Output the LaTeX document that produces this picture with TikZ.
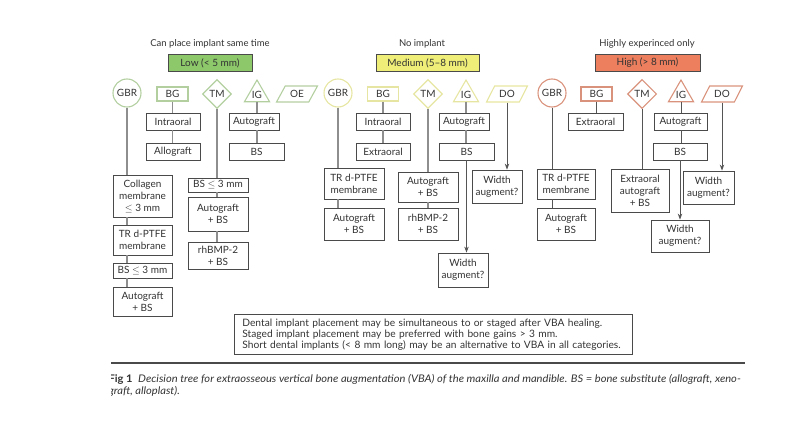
\documentclass[tikz,border=0pt]{standalone}
\usepackage{fontspec}
\setmainfont{Lato}
\usetikzlibrary{shapes.geometric,arrows.meta}
\definecolor{lowfill}{HTML}{8DC96B}
\definecolor{medfill}{HTML}{EEEE78}
\definecolor{highfill}{HTML}{EE7F5E}
\definecolor{lowline}{HTML}{B3CFA0}
\definecolor{medline}{HTML}{E6E6A2}
\definecolor{highline}{HTML}{D9937C}
\definecolor{boxc}{HTML}{4A4A4A}
\definecolor{txt}{HTML}{333333}
\definecolor{connc}{HTML}{8E8E8E}
\definecolor{hconnc}{HTML}{555555}
\begin{document}
\begin{tikzpicture}[x=1pt,y=-1pt,
  every node/.style={text=txt},
  hdr/.style={font=\fontsize{9.5}{11}\selectfont},
  lvl/.style={draw=boxc, line width=0.8pt, inner sep=0pt, minimum height=17pt, font=\fontsize{10}{12}\selectfont},
  bx/.style 2 args={draw=boxc, line width=0.8pt, fill=white, inner sep=1pt, align=center,
    minimum width=#1, minimum height=#2, font=\fontsize{10}{12}\selectfont},
  shp/.style={line width=1.1pt, inner sep=0pt, font=\fontsize{10}{12}\selectfont},
  circ/.style={shp, circle, minimum size=28pt},
  sq/.style={shp, rectangle, minimum width=31pt, minimum height=14pt},
  dia/.style={shp, diamond, aspect=1, minimum size=29pt},
  tri/.style={shp, regular polygon, regular polygon sides=3, minimum size=29pt},
  para/.style={shp, trapezium, trapezium left angle=55, trapezium right angle=125,
    trapezium stretches=true, minimum width=41pt, minimum height=16pt},
  conn/.style={draw=connc, line width=1.3pt},
  hconn/.style={draw=hconnc, line width=1pt},
  arr/.style={draw=hconnc, line width=0.9pt, -{Stealth[length=6pt,width=4.5pt]}},
  captxt/.style={anchor=base west, inner sep=0pt, font=\fontsize{10.5}{12}\selectfont},
]
\useasboundingbox (0,0) rectangle (809,444);

% ---------------- LOW ----------------
\node[hdr] (lcap) at (210,44) {Can place implant same time};
\node[lvl, fill=lowfill, minimum width=84pt] (low) at (210,63) {Low (< 5 mm)};
\node[circ, draw=lowline] (lGBR) at (127,93) {GBR};
\node[sq, draw=lowline] (lBG) at (172.5,94) {BG};
\node[dia, draw=lowline] (lTM) at (217,94) {TM};
\node[tri, draw=lowline] (lIG) at (257,94.5) {IG};
\node[para, draw=lowline] (lOE) at (297,94) {OE};

\node[bx={54pt}{17pt}] (lIntra) at (173,121.5) {Intraoral};
\node[bx={54pt}{17pt}] (lAllo) at (173,151.5) {Allograft};
\node[bx={50pt}{17pt}] (lAuto) at (254,121.5) {Autograft};
\node[bx={55pt}{17pt}] (lBS) at (256.5,151.5) {BS};

\node[bx={59pt}{42pt}] (lColl) at (142.5,196) {Collagen\\membrane\\$\leq$ 3 mm};
\node[bx={59pt}{30pt}] (lTR) at (142.5,240) {TR d-PTFE\\membrane};
\node[bx={59pt}{15pt}] (lBS3) at (142.5,270.5) {BS $\leq$ 3 mm};
\node[bx={59pt}{29pt}] (lAG) at (142.5,301.5) {Autograft\\+ BS};

\node[bx={60pt}{14pt}] (lTBS) at (218,185) {BS $\leq$ 3 mm};
\node[bx={60pt}{34pt}] (lTAG) at (218,214) {Autograft\\+ BS};
\node[bx={60pt}{27pt}] (lTRh) at (218,255.5) {rhBMP-2\\+ BS};

\draw[conn] (lGBR.south) -- (lGBR.south |- lColl.north);
\draw[conn] (lGBR.south |- lColl.south) -- (lGBR.south |- lTR.north);
\draw[conn] (lGBR.south |- lTR.south) -- (lGBR.south |- lBS3.north);
\draw[conn] (lGBR.south |- lBS3.south) -- (lGBR.south |- lAG.north);
\draw[conn] (lBG.south) -- (lBG.south |- lIntra.north);
\draw[conn] (lBG.south |- lIntra.south) -- (lBG.south |- lAllo.north);
\draw[conn] (lTM.south) -- (lTM.south |- lTBS.north);
\draw[conn] (lTM.south |- lTBS.south) -- (lTM.south |- lTAG.north);
\draw[conn] (lTM.south |- lTAG.south) -- (lTM.south |- lTRh.north);
\draw[conn] (lIG.south) -- (lIG.south |- lAuto.north);
\draw[conn] (lIG.south |- lAuto.south) -- (lIG.south |- lBS.north);

% ---------------- MEDIUM ----------------
\node[hdr] (mcap) at (422,44) {No implant};
\node[lvl, fill=medfill, minimum width=103pt] (med) at (427.5,63) {Medium (5–8 mm)};
\node[circ, draw=medline] (mGBR) at (338,93) {GBR};
\node[sq, draw=medline] (mBG) at (383,94) {BG};
\node[dia, draw=medline] (mTM) at (428,94) {TM};
\node[tri, draw=medline] (mIG) at (466,94.5) {IG};
\node[para, draw=medline] (mDO) at (507,94) {DO};

\node[bx={54pt}{17pt}] (mIntra) at (383,121.5) {Intraoral};
\node[bx={54pt}{17pt}] (mExtra) at (383,151.5) {Extraoral};
\node[bx={50pt}{17pt}] (mAuto) at (464,121.5) {Autograft};
\node[bx={55pt}{17pt}] (mBS) at (466.5,151.5) {BS};

\node[bx={60pt}{31pt}] (mTR) at (354,183.5) {TR d-PTFE\\membrane};
\node[bx={60pt}{32pt}] (mAG) at (354,224) {Autograft\\+ BS};
\node[bx={60pt}{30pt}] (mTAG) at (428,187) {Autograft\\+ BS};
\node[bx={60pt}{32pt}] (mTRh) at (428,224) {rhBMP-2\\+ BS};
\node[bx={50pt}{34pt}] (mW1) at (463,270) {Width\\augment?};
\node[bx={50pt}{33pt}] (mW2) at (497,186.5) {Width\\augment?};

\draw[conn] (mGBR.south) -- (mGBR.south |- mTR.north);
\draw[conn] (mGBR.south |- mTR.south) -- (mGBR.south |- mAG.north);
\draw[conn] (mBG.south) -- (mBG.south |- mIntra.north);
\draw[conn] (mBG.south |- mIntra.south) -- (mBG.south |- mExtra.north);
\draw[conn] (mTM.south) -- (mTM.south |- mTAG.north);
\draw[conn] (mTM.south |- mTAG.south) -- (mTM.south |- mTRh.north);
\draw[conn] (mIG.south) -- (mIG.south |- mAuto.north);
\draw[conn] (mIG.south |- mAuto.south) -- (mIG.south |- mBS.north);
\draw[arr] (mBS.south) -- (mBS.south |- mW1.north);
\draw[arr] (mDO.south) -- (mDO.south |- mW2.north);

% ---------------- HIGH ----------------
\node[hdr] (hcap) at (647,44) {Highly experinced only};
\node[lvl, fill=highfill, minimum width=105pt] (high) at (647.5,63) {High (> 8 mm)};
\node[circ, draw=highline] (hGBR) at (552,93) {GBR};
\node[sq, draw=highline] (hBG) at (596.5,94) {BG};
\node[dia, draw=highline] (hTM) at (642,94) {TM};
\node[tri, draw=highline] (hIG) at (681,94.5) {IG};
\node[para, draw=highline] (hDO) at (722,94) {DO};

\node[bx={55pt}{17pt}] (hExtra) at (595.5,121.5) {Extraoral};
\node[bx={53pt}{17pt}] (hAuto) at (680.5,121.5) {Autograft};
\node[bx={54pt}{17pt}] (hBS) at (680,151.5) {BS};

\node[bx={58pt}{30pt}] (hTR) at (566,184) {TR d-PTFE\\membrane};
\node[bx={58pt}{32pt}] (hAG) at (566,224) {Autograft\\+ BS};
\node[bx={58pt}{43pt}] (hEAG) at (640,190.5) {Extraoral\\autograft\\+ BS};
\node[bx={58pt}{32pt}] (hW1) at (680,236) {Width\\augment?};
\node[bx={51pt}{33pt}] (hW2) at (708.5,187.5) {Width\\augment?};

\draw[hconn] (hGBR.south) -- (hGBR.south |- hTR.north);
\draw[hconn] (hGBR.south |- hTR.south) -- (hGBR.south |- hAG.north);
\draw[hconn] (hBG.south) -- (hBG.south |- hExtra.north);
\draw[hconn] (hTM.south) -- (hTM.south |- hEAG.north);
\draw[hconn] (hIG.south) -- (hIG.south |- hAuto.north);
\draw[hconn] (hIG.south |- hAuto.south) -- (hIG.south |- hBS.north);
\draw[arr] (hBS.south) -- (hBS.south |- hW1.north);
\draw[arr] (hDO.south) -- (hDO.south |- hW2.north);

% ---------------- NOTE ----------------
\node[draw=boxc, line width=0.8pt, anchor=north west, inner xsep=8pt, inner ysep=0pt,
  text width=382pt, minimum height=40pt, align=left, font=\fontsize{10.2}{10.8}\selectfont]
  (note) at (234,314) {Dental implant placement may be simultaneous to or staged after VBA healing.\\
  Staged implant placement may be preferred with bone gains > 3 mm.\\
  Short dental implants (< 8 mm long) may be an alternative to VBA in all categories.};

% ---------------- CAPTION ----------------
\coordinate (rl) at (111,363);
\coordinate (rr) at (745,363);
\draw[draw=boxc, line width=1.3pt] (rl) -- (rr);
\begin{scope}
\clip (111,366) rectangle (809,444);
\node[captxt] (cap1) at (108.3,382)
  {\scalebox{1.06}[1]{\textbf{Fig 1}\enspace\textit{Decision tree for extraosseous vertical bone augmentation (VBA) of the maxilla and mandible. BS = bone substitute (allograft, xeno-}}};
\node[captxt] (cap2) at (108.3,394)
  {\scalebox{1.06}[1]{\textit{graft, alloplast).}}};
\end{scope}
\end{tikzpicture}
\end{document}
